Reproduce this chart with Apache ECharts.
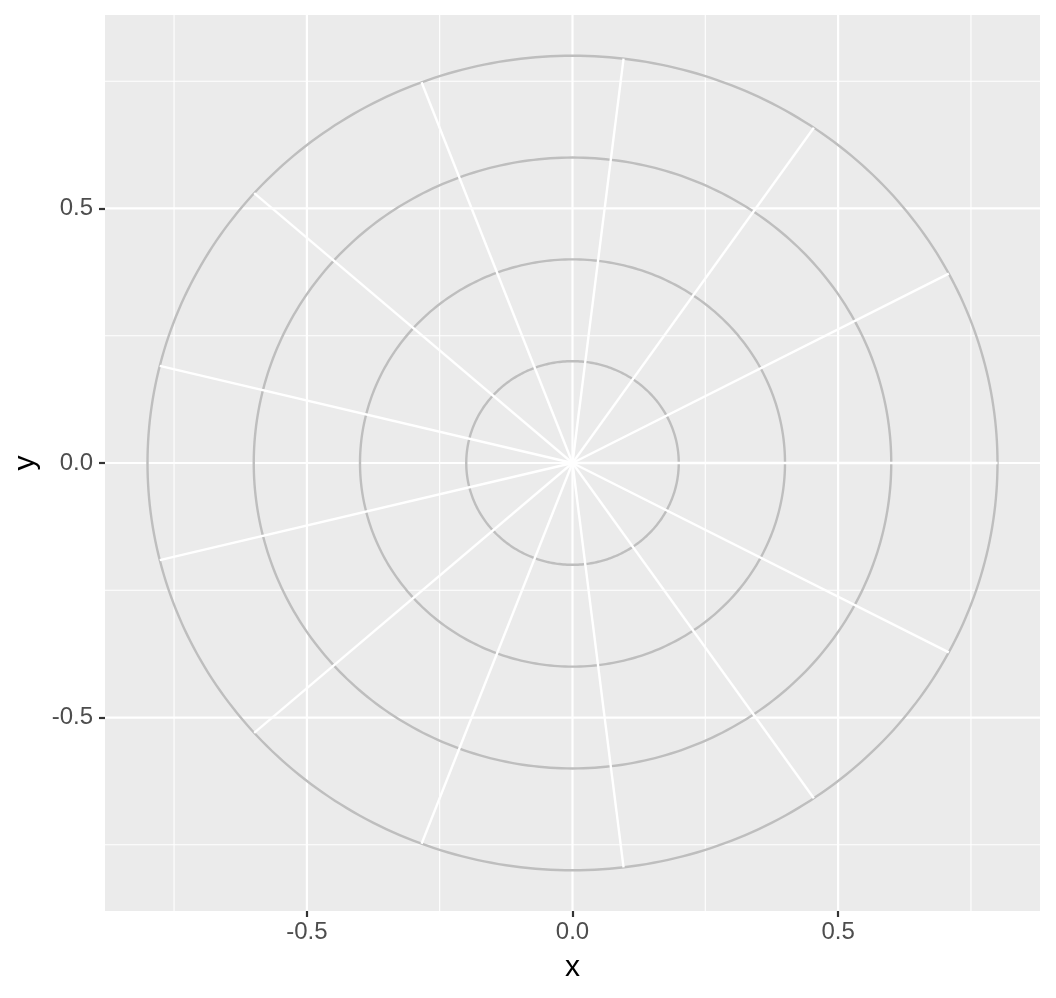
<!DOCTYPE html>
<html>
<head>
<meta charset="utf-8">
<script src="https://cdn.jsdelivr.net/npm/echarts@6/dist/echarts.min.js"></script>
<style>
html, body { margin: 0; padding: 0; background: #ffffff; }
#chart { width: 1056px; height: 998px; }
</style>
</head>
<body>
<div id="chart"></div>
<script>
// ---- data ----
const xBreaks = [-0.5, 0.0, 0.5];
const yBreaks = [-0.5, 0.0, 0.5];
const xMinorBreaks = [-0.75, -0.25, 0.25, 0.75];
const yMinorBreaks = [-0.75, -0.25, 0.25, 0.75];
const ringRadii = [0.2, 0.4, 0.6, 0.8];
const spokeAngles = [0, 27.7, 55.4, 83.1, 110.8, 138.5, 166.2, 193.8, 221.5, 249.2, 276.9, 304.6, 332.3];
const spokeLength = 0.8;
const axisMin = -0.88, axisMax = 0.88;

const chart = echarts.init(document.getElementById('chart'), null, { renderer: 'canvas' });

function gridLineSeries(values, vertical, width) {
  return {
    type: 'custom',
    silent: true,
    z: 1,
    data: values.map(v => [v, v]),
    renderItem: function (params, api) {
      const cs = params.coordSys;
      const v = api.value(0);
      let shape;
      if (vertical) {
        const p = api.coord([v, 0]);
        shape = { x1: p[0], y1: cs.y, x2: p[0], y2: cs.y + cs.height };
      } else {
        const p = api.coord([0, v]);
        shape = { x1: cs.x, y1: p[1], x2: cs.x + cs.width, y2: p[1] };
      }
      return { type: 'line', shape: shape, style: { stroke: '#FFFFFF', lineWidth: width } };
    }
  };
}

const ringSeries = {
  type: 'custom',
  silent: true,
  z: 3,
  data: ringRadii.map(r => [r, 0]),
  renderItem: function (params, api) {
    const r = api.value(0);
    const pts = [];
    for (let a = 0; a <= 360; a += 1) {
      const t = a * Math.PI / 180;
      pts.push(api.coord([r * Math.cos(t), r * Math.sin(t)]));
    }
    return { type: 'polyline', shape: { points: pts }, style: { stroke: '#BEBEBE', lineWidth: 2.4, fill: null } };
  }
};

const spokeSeries = {
  type: 'custom',
  silent: true,
  z: 4,
  data: spokeAngles.map(a => [a, spokeLength]),
  renderItem: function (params, api) {
    const t = api.value(0) * Math.PI / 180;
    const len = api.value(1);
    const c = api.coord([0, 0]);
    const e = api.coord([len * Math.cos(t), len * Math.sin(t)]);
    return { type: 'line', shape: { x1: c[0], y1: c[1], x2: e[0], y2: e[1] }, style: { stroke: '#FFFFFF', lineWidth: 2.4 } };
  }
};

const fmt = v => Number(v).toFixed(1);

chart.setOption({
  animation: false,
  backgroundColor: '#FFFFFF',
  grid: { left: 105, right: 16, top: 15, bottom: 87, show: true, backgroundColor: '#EBEBEB', borderWidth: 0 },
  xAxis: {
    type: 'value', min: axisMin, max: axisMax,
    name: 'x', nameLocation: 'middle', nameGap: 42,
    nameTextStyle: { color: '#000000', fontSize: 30, fontFamily: 'Liberation Sans' },
    axisLine: { show: false, onZero: false },
    axisTick: { show: true, customValues: xBreaks, length: 6, lineStyle: { color: '#333333', width: 2.2 } },
    axisLabel: { customValues: xBreaks, formatter: fmt, color: '#4D4D4D', fontSize: 24, margin: 9, fontFamily: 'Liberation Sans' },
    splitLine: { show: false }
  },
  yAxis: {
    type: 'value', min: axisMin, max: axisMax,
    name: 'y', nameLocation: 'middle', nameGap: 57, nameRotate: 90,
    nameTextStyle: { color: '#000000', fontSize: 30, fontFamily: 'Liberation Sans' },
    axisLine: { show: false, onZero: false },
    axisTick: { show: true, customValues: yBreaks, length: 6, lineStyle: { color: '#333333', width: 2.2 } },
    axisLabel: { customValues: yBreaks, formatter: fmt, color: '#4D4D4D', fontSize: 24, margin: 12, fontFamily: 'Liberation Sans' },
    splitLine: { show: false }
  },
  series: [
    gridLineSeries(xMinorBreaks, true, 1.1),
    gridLineSeries(yMinorBreaks, false, 1.1),
    gridLineSeries(xBreaks, true, 2.2),
    gridLineSeries(yBreaks, false, 2.2),
    ringSeries,
    spokeSeries
  ]
});
</script>
</body>
</html>
